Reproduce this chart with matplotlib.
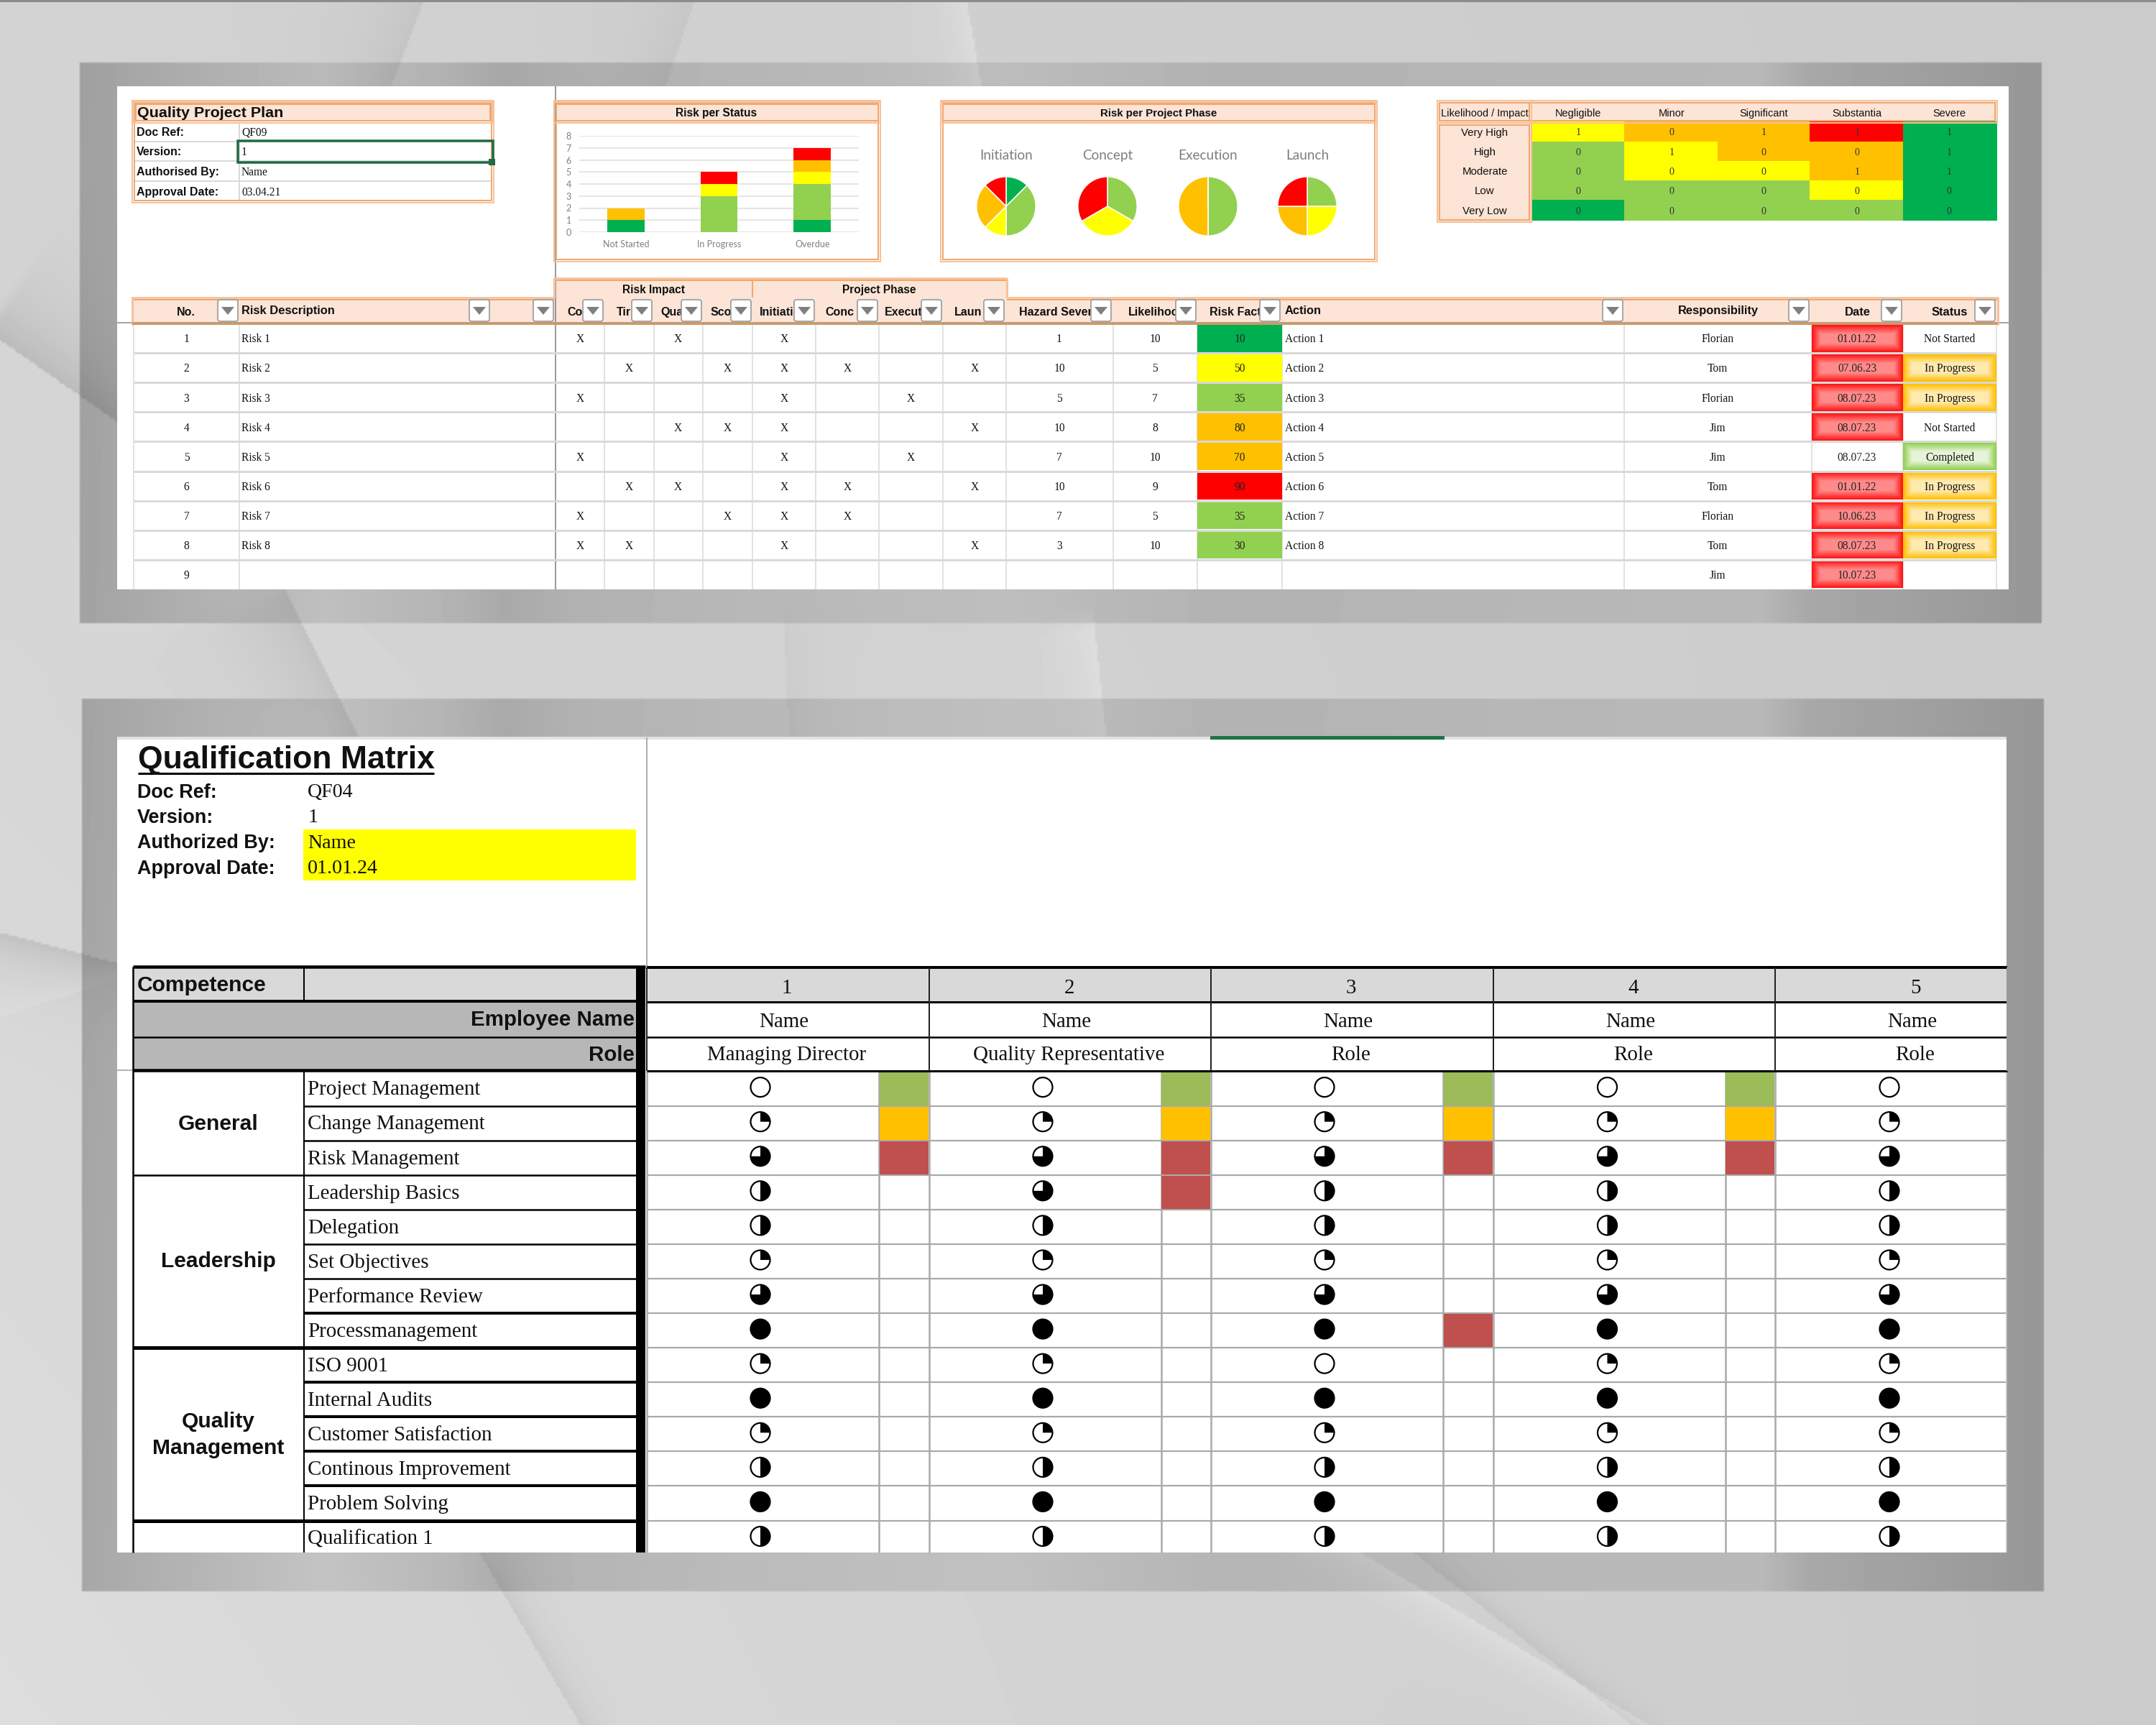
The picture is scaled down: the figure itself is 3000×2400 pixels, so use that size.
import numpy as np
import matplotlib
matplotlib.use("Agg")
import matplotlib.pyplot as plt
from matplotlib.patches import Rectangle, Circle, Wedge, Polygon, FancyBboxPatch

# ---------- DATA ----------
plan_title = "Quality Project Plan"
plan_labels = ["Doc Ref:", "Version:", "Authorised By:", "Approval Date:"]
plan_values = ["QF09", "1", "Name", "03.04.21"]

status_cats = ["Not Started", "In Progress", "Overdue"]
status_ticks = [0, 1, 2, 3, 4, 5, 6, 7, 8]
status_dgreen = [1, 0, 1]
status_lgreen = [0, 3, 3]
status_yellow = [0, 1, 1]
status_orange = [1, 0, 1]
status_red = [0, 1, 1]

phase_names = ["Initiation", "Concept", "Execution", "Launch"]
pie_initiation = [1, 3, 1, 2, 1]   # dgreen, lgreen, yellow, orange, red
pie_concept = [0, 1, 1, 0, 1]
pie_execution = [0, 1, 0, 1, 0]
pie_launch = [0, 1, 1, 1, 1]

impact_cols = ["Negligible", "Minor", "Significant", "Substantia", "Severe"]
likelihood_rows = ["Very High", "High", "Moderate", "Low", "Very Low"]
heat_values = [[1, 0, 1, 1, 1],
               [0, 1, 0, 0, 1],
               [0, 0, 0, 1, 1],
               [0, 0, 0, 0, 0],
               [0, 0, 0, 0, 0]]
heat_colors = [["y", "o", "o", "r", "dg"],
               ["lg", "y", "o", "o", "dg"],
               ["lg", "y", "y", "o", "dg"],
               ["lg", "lg", "lg", "y", "dg"],
               ["dg", "lg", "lg", "lg", "dg"]]

risk_no = [1, 2, 3, 4, 5, 6, 7, 8, 9]
risk_desc = ["Risk 1", "Risk 2", "Risk 3", "Risk 4", "Risk 5", "Risk 6", "Risk 7", "Risk 8", ""]
risk_marks = ["X.X.X...", ".X.XXX.X", "X...X.X.", "..XXX..X", "X...X.X.",
              ".XX.XX.X", "X..XXX..", "XX..X..X", "........"]
severity = [1, 10, 5, 10, 7, 10, 7, 3, ""]
likelihood = [10, 5, 7, 8, 10, 9, 5, 10, ""]
risk_factor = [10, 50, 35, 80, 70, 90, 35, 30, ""]
factor_colors = ["dg", "y", "lg", "o", "o", "r", "lg", "lg", None]
actions = ["Action 1", "Action 2", "Action 3", "Action 4", "Action 5", "Action 6", "Action 7", "Action 8", ""]
responsible = ["Florian", "Tom", "Florian", "Jim", "Jim", "Tom", "Florian", "Tom", "Jim"]
dates = ["01.01.22", "07.06.23", "08.07.23", "08.07.23", "08.07.23", "01.01.22", "10.06.23", "08.07.23", "10.07.23"]
date_overdue = [1, 1, 1, 1, 0, 1, 1, 1, 1]
status = ["Not Started", "In Progress", "In Progress", "Not Started", "Completed",
          "In Progress", "In Progress", "In Progress", ""]
header_labels = ["Co", "Tir", "Qua", "Sco", "Initiati", "Conc", "Execut", "Laun",
                 "Hazard Severi", "Likelihoo", "Risk Fact"]

qm_title = "Qualification Matrix"
qm_labels = ["Doc Ref:", "Version:", "Authorized By:", "Approval Date:"]
qm_values = ["QF04", "1", "Name", "01.01.24"]
employee_no = ["1", "2", "3", "4", "5"]
employee_names = ["Name", "Name", "Name", "Name", "Name"]
employee_roles = ["Managing Director", "Quality Representative", "Role", "Role", "Role"]
competences = ["Project Management", "Change Management", "Risk Management", "Leadership Basics",
               "Delegation", "Set Objectives", "Performance Review", "Processmanagement",
               "ISO 9001", "Internal Audits", "Customer Satisfaction", "Continous Improvement",
               "Problem Solving", "Qualification 1"]
levels = [[0, 0, 0, 0, 0], [1, 1, 1, 1, 1], [3, 3, 3, 3, 3], [2, 3, 2, 2, 2],
          [2, 2, 2, 2, 2], [1, 1, 1, 1, 1], [3, 3, 3, 3, 3], [4, 4, 4, 4, 4],
          [1, 1, 0, 1, 1], [4, 4, 4, 4, 4], [1, 1, 1, 1, 1], [2, 2, 2, 2, 2],
          [4, 4, 4, 4, 4], [2, 2, 2, 2, 2]]
gap_flags = [["g", "g", "g", "g"], ["a", "a", "a", "a"], ["r", "r", "r", "r"], ["", "r", "", ""],
             ["", "", "", ""], ["", "", "", ""], ["", "", "", ""], ["", "", "r", ""],
             ["", "", "", ""], ["", "", "", ""], ["", "", "", ""], ["", "", "", ""],
             ["", "", "", ""], ["", "", "", ""]]

# ---------- STYLE / LAYOUT ----------
W, H = 3000, 2400
DPI = 100
SERIF, SANS, CAL = "Liberation Serif", "Liberation Sans", "Lato"
COL = {"dg": "#00b050", "lg": "#92d050", "y": "#ffff00", "o": "#ffc000", "r": "#ff0000"}
PIE_COLORS = [COL["dg"], COL["lg"], COL["y"], COL["o"], COL["r"]]
GAP = {"g": "#9bbb59", "a": "#ffc000", "r": "#c0504d"}
PEACH, OR1, OR2 = "#fce4d6", "#f6c19a", "#f0a870"
GRID = "#d9d9d9"

fig = plt.figure(figsize=(W / DPI, H / DPI), dpi=DPI)
ax = fig.add_axes([0, 0, 1, 1])


def T(x, y, s, px, fam=SERIF, w="normal", ha="center", c="#111111", z=10, **kw):
    return ax.text(x, y + 1.8, str(s), fontsize=px * 72 / DPI, family=fam, weight=w, ha=ha,
                   va="center", color=c, zorder=z, **kw)


def R(x0, y0, x1, y1, fc, z=2, ec="none", lw=0):
    ax.add_patch(Rectangle((x0, y0), x1 - x0, y1 - y0, fc=fc, ec=ec, lw=lw * 72 / DPI, zorder=z))


def L(x0, y0, x1, y1, c="#000000", px=2, z=4):
    ax.plot([x0, x1], [y0, y1], color=c, lw=px * 72 / DPI, zorder=z, solid_capstyle="butt")


def inset(x0, y0, x1, y1):
    a = fig.add_axes([x0 / W, 1 - y1 / H, (x1 - x0) / W, (y1 - y0) / H])
    a.patch.set_alpha(0)
    return a


def band(X, Y, p0, p1, w, delta, side=1):
    dx, dy = p1[0] - p0[0], p1[1] - p0[1]
    n = np.hypot(dx, dy)
    d = side * ((X - p0[0]) * dy - (Y - p0[1]) * dx) / n
    t = ((X - p0[0]) * dx + (Y - p0[1]) * dy) / n ** 2
    fade = np.clip(t / 0.08, 0, 1) * np.clip((1 - t) / 0.08, 0, 1)
    return delta * np.where(d >= 0, np.exp(-d / w), 0) * fade


# background texture
xs = np.linspace(0, W, 1000)
ys = np.linspace(0, H, 800)
X, Y = np.meshgrid(xs, ys)
bg = 0.825 + 0.04 * (Y / H) * (1 - X / W) - 0.03 * X / W
for p0, p1, w_, dl, sd in [
    ((600, -30), (490, 260), 70, -0.05, -1),
    ((975, -30), (880, 260), 60, -0.04, -1),
    ((1340, -30), (1390, 260), 45, 0.05, -1),
    ((380, 790), (650, 1330), 80, -0.07, -1),
    ((1520, 840), (1570, 1320), 60, 0.05, -1),
    ((1090, 840), (1110, 1320), 40, -0.025, 1),
    ((630, 2100), (830, 2440), 25, -0.06, 1),
    ((1790, 2100), (2360, 2440), 35, 0.05, -1),
    ((1890, 2100), (2320, 2440), 20, -0.05, 1),
    ((-30, 452), (190, 606), 70, -0.10, 1),
    ((-30, 1290), (200, 1350), 40, -0.09, -1),
    ((-30, 1425), (200, 1350), 30, 0.02, 1),
]:
    bg = bg + band(X, Y, p0, p1, w_, dl, sd)
prof_x = [110, 250, 450, 620, 700, 800, 1000, 1400, 1700, 2000, 2450, 2520, 2843]
prof_y = [.76, .82, .90, .85, .80, .84, .87, .91, .86, .88, .90, .82, .74]
prof = np.interp(X, prof_x, prof_y)
for (x0, y0, x1, y1) in [(110, 85, 2843, 868), (113, 971, 2846, 2215)]:
    m = (X >= x0) & (X <= x1) & (Y >= y0) & (Y <= y1)
    bg[m] = bg[m] * prof[m]
ax.imshow(bg, extent=(0, W, H, 0), cmap="gray", vmin=0, vmax=1, aspect="auto",
          interpolation="bilinear", zorder=0)
R(0, 0, W, 3, "#8c8c8c", z=1)
R(163, 120, 2795, 820, "white", z=1)
R(163, 1025, 2792, 2160, "white", z=1)


def glow(x0, y0, x1, y1, edge, center):
    nx, ny = 80, 40
    gx = np.linspace(0, 1, nx)
    gy = np.linspace(0, 1, ny)
    PX, PY = np.meshgrid(gx, gy)
    dist = np.minimum(np.minimum(PX, 1 - PX) * (x1 - x0), np.minimum(PY, 1 - PY) * (y1 - y0))
    t = np.clip(dist / ((y1 - y0) * 0.32), 0, 1)[..., None]
    e = np.array(matplotlib.colors.to_rgb(edge))
    c = np.array(matplotlib.colors.to_rgb(center))
    ax.imshow(e * (1 - t) + c * t, extent=(x0, x1, y1, y0), aspect="auto", zorder=2,
              interpolation="bilinear")


def obox(x0, y0, x1, y1, fc=None):
    if fc:
        R(x0, y0, x1, y1, fc, z=2)
    R(x0, y0, x1, y1, "none", z=5, ec=OR1, lw=2)
    R(x0 + 3, y0 + 3, x1 - 3, y1 - 3, "none", z=5, ec=OR2, lw=2)


def button(xr):
    ax.add_patch(FancyBboxPatch((xr - 29, 417), 28, 30, boxstyle="round,pad=0,rounding_size=3",
                                fc="white", ec="#9a9a9a", lw=1.2, zorder=7))
    cx = xr - 15
    ax.add_patch(Polygon([(cx - 9, 427), (cx + 9, 427), (cx, 438)], fc="#7f7f7f", ec="none", zorder=8))


# ---------- TOP: info box ----------
obox(184, 140, 687, 282)
R(188, 144, 683, 168, PEACH)
obox(186, 142, 685, 171)
T(191, 156, plan_title, 21.5, SANS, "bold", ha="left")
plan_y = [183, 210, 238, 266]
for lb, v, y in zip(plan_labels, plan_values, plan_y):
    T(190, y, lb, 16, SANS, "bold", ha="left")
    T(336, y, v, 15.5, SERIF, ha="left")
for y in [197, 224, 252]:
    L(188, y, 684, y, GRID, 2)
L(333, 172, 333, 278, GRID, 2)
R(331, 196, 686, 226, "none", z=6, ec="#1f6b45", lw=3.5)
R(680, 221, 689, 230, "#1f6b45", z=7)
L(773, 120, 773, 820, "#8f8f8f", 1.8, z=3)

# ---------- TOP: bar chart ----------
obox(771, 140, 1225, 364)
obox(771, 142, 1225, 171, PEACH)
T(997, 156, "Risk per Status", 15.5, SANS, "bold")
bar_ax = inset(806, 189, 1195, 323)
bottom = np.zeros(3)
for vals, cc in zip([status_dgreen, status_lgreen, status_yellow, status_orange, status_red], PIE_COLORS):
    bar_ax.bar(status_cats, vals, width=0.4, bottom=bottom, color=cc, zorder=3)
    bottom = bottom + np.array(vals)
bar_ax.set_xlim(-0.5, 2.5)
bar_ax.set_ylim(0, 8)
bar_ax.set_yticks(status_ticks)
bar_ax.grid(axis="y", color="#e6e6e6", lw=1.6)
bar_ax.set_axisbelow(True)
for s_ in bar_ax.spines.values():
    s_.set_visible(False)
bar_ax.tick_params(length=0, labelsize=12.5 * 72 / DPI, labelcolor="#7f7f7f", pad=8)
bar_ax.tick_params(axis="y", pad=8)
for t_ in bar_ax.get_xticklabels() + bar_ax.get_yticklabels():
    t_.set_family(CAL)

# ---------- TOP: pies ----------
obox(1309, 140, 1916, 364)
obox(1309, 142, 1916, 171, PEACH)
T(1612, 156, "Risk per Project Phase", 15, SANS, "bold")
pie_centers = [1400, 1541, 1681, 1819]
for nm, vals, cx in zip(phase_names, [pie_initiation, pie_concept, pie_execution, pie_launch], pie_centers):
    T(cx, 215, nm, 19, CAL, c="#7f7f7f")
    pa = inset(cx - 42, 245, cx + 42, 329)
    pa.pie(vals, colors=PIE_COLORS, startangle=90, counterclock=False, radius=1,
           wedgeprops=dict(edgecolor="white", linewidth=1.1))
    pa.set_xlim(-1.02, 1.02)
    pa.set_ylim(-1.02, 1.02)

# ---------- TOP: heat matrix ----------
hx = [2131, 2260, 2390, 2518, 2648, 2779]
hy = [169, 197, 224, 251, 278, 307]
hc = [2196, 2326, 2454, 2584, 2712]
obox(2000, 140, 2779, 171, PEACH)
obox(2000, 140, 2131, 171)
R(2000, 171, 2131, 309, PEACH)
obox(2000, 171, 2131, 309)
T(2066, 156, "Likelihood / Impact", 14.5, SANS)
for nm, x in zip(impact_cols, hc):
    T(x, 156, nm, 14.5, SANS)
for i, rn in enumerate(likelihood_rows):
    T(2066, (hy[i] + hy[i + 1]) / 2, rn, 15, SANS)
    for j in range(5):
        R(hx[j], hy[i], hx[j + 1], hy[i + 1], COL[heat_colors[i][j]], z=3)
        T(hc[j], (hy[i] + hy[i + 1]) / 2, heat_values[i][j], 14, SERIF, c="#333333")

# ---------- TOP: risk table ----------
cols = [186, 333, 773, 841, 909.5, 978, 1047, 1135, 1223, 1312, 1400, 1549, 1666, 1784, 2260, 2521, 2648, 2778]
row0, rowh = 450, (820 - 450) / 9
row_tops = [row0 + rowh * i for i in range(10)]
R(184, 413, 2780, 452, PEACH, z=2)
R(771, 386, 1401, 413, PEACH, z=2)
for seg in [((184, 414), (771, 414)), ((1401, 414), (2780, 414))]:
    L(seg[0][0], seg[0][1], seg[1][0], seg[1][1], OR1, 2.5, z=5)
    L(seg[0][0], seg[0][1] + 3, seg[1][0], seg[1][1] + 3, OR2, 2, z=5)
L(771, 387, 1401, 387, OR1, 2.5, z=5)
L(771, 390, 1401, 390, OR2, 2, z=5)
L(771, 387, 771, 414, OR1, 3, z=5)
L(1401, 387, 1401, 414, OR1, 3, z=5)
L(1047, 391, 1047, 414, OR2, 2, z=5)
L(184, 413, 184, 452, OR1, 3, z=5)
L(2780, 413, 2780, 452, OR1, 3, z=5)
L(184, 450, 2780, 450, "#c99a70", 4, z=5)
L(163, 449, 186, 449, "#888888", 1.5)
L(2778, 449, 2795, 449, "#888888", 1.5)
T(909.5, 402, "Risk Impact", 15.5, SANS, "bold")
T(1223, 402, "Project Phase", 15.5, SANS, "bold")
T(259, 433, "No.", 16, SANS, "bold")
T(336, 431, "Risk Description", 16.5, SANS, "bold", ha="left")
T(1788, 431, "Action", 16.5, SANS, "bold", ha="left")
T(2391, 431, "Responsibility", 16.5, SANS, "bold")
T(2585, 433, "Date", 16.5, SANS, "bold")
T(2713, 433, "Status", 16.5, SANS, "bold")
header_x = [789, 858, 919, 989, 1057, 1148, 1231, 1328, 1418, 1570, 1683]
for s_, x in zip(header_labels, header_x):
    T(x, 433, s_, 16, SANS, "bold", ha="left", z=6)
for xr in [332, 682, 771, 840, 908, 977, 1046, 1134, 1222, 1311, 1398, 1547, 1665, 1782, 2259, 2518, 2647, 2777]:
    button(xr)

for x in cols:
    if x != 773:
        L(x, 452, x, 820, GRID, 1.5, z=2)
for y in row_tops[1:-1]:
    L(186, y, 2778, y, GRID, 3, z=4)
mark_centers = [(cols[k] + cols[k + 1]) / 2 for k in range(2, 10)]
for i in range(9):
    y0_, y1_ = row_tops[i] + 2, row_tops[i + 1] - 1.5
    yc = (row_tops[i] + row_tops[i + 1]) / 2
    T(259.5, yc, risk_no[i], 15.5)
    T(336, yc, risk_desc[i], 15.5, ha="left")
    for ch, x in zip(risk_marks[i], mark_centers):
        if ch == "X":
            T(x, yc, "X", 15.5)
    T(1474, yc, severity[i], 15.5)
    T(1607, yc, likelihood[i], 15.5)
    if factor_colors[i]:
        R(1666, y0_, 1784, y1_, COL[factor_colors[i]], z=3)
    T(1725, yc, risk_factor[i], 15.5, c="#222222")
    T(1788, yc, actions[i], 15.5, ha="left")
    T(2390, yc, responsible[i], 15.5)
    if date_overdue[i]:
        glow(2521, y0_, 2648, y1_, "#ff1414", "#ff8a8a")
    T(2584, yc, dates[i], 15.5, c="#222222")
    if status[i] == "In Progress":
        glow(2648, y0_, 2778, y1_, "#ffc000", "#ffeab0")
    elif status[i] == "Completed":
        glow(2648, y0_, 2778, y1_, "#92d050", "#e6f3d8")
    T(2713, yc, status[i], 15.5)

# ---------- BOTTOM: header block ----------
R(163, 1025, 2792, 1029, "#e2e2e2", z=2)
R(1684, 1024, 2010, 1029, "#217346", z=3)
L(900, 1026, 900, 1345, "#a6a6a6", 1.8)
T(192, 1056, qm_title, 44.5, SANS, "bold", ha="left")
L(192, 1076, 604, 1076, "#000000", 3)
qm_y = [1101, 1136, 1171.5, 1207]
R(422, 1154, 885, 1225, "#ffff00")
for lb, v, y in zip(qm_labels, qm_values, qm_y):
    T(191, y, lb, 27, SANS, "bold", ha="left")
    T(428, y, v, 28, SERIF, ha="left")

# ---------- BOTTOM: matrix ----------
R(185, 1346, 885, 1393, "#d9d9d9")
R(185, 1393, 885, 1490, "#b7b7b7")
emp_x = [900, 1292.5, 1685, 2077.5, 2470, 2793]
emp_center = [1095, 1487.5, 1880, 2273, 2665]
name_center = [1091, 1484, 1876, 2269, 2661]
ball_x = [1058, 1451, 1843, 2236.5, 2629]
R(900, 1346, 2793, 1394, "#d9d9d9")
for yy, px in [(1346, 4), (1394, 3), (1443, 2.5), (1490, 3)]:
    L(900, yy, 2793, yy, "#000000", px, z=6)
for x in emp_x[:-1]:
    L(x, 1346, x, 1490, "#222222", 2, z=6)
L(2793, 1346, 2793, 1490, "#999999", 2, z=6)
T(191, 1369, "Competence", 30, SANS, "bold", ha="left")
T(883, 1417, "Employee Name", 29.5, SANS, "bold", ha="right")
T(883, 1466, "Role", 29.5, SANS, "bold", ha="right")
for i in range(5):
    T(emp_center[i], 1373, employee_no[i], 29)
    T(name_center[i], 1420, employee_names[i], 29)
    T(emp_center[i], 1466, employee_roles[i], 29)

qtop, qh = 1490.6, 48.07
q_tops = [qtop + qh * i for i in range(15)]
# light grid
for i in range(1, 14):
    L(900, q_tops[i], 2791, q_tops[i], "#a9a9a9", 2.2, z=3)
for x in emp_x[:-1]:
    L(x, 1490, x, 2160, "#a9a9a9", 2.5, z=3)
    if x < 2400:
        L(x + 323, 1490, x + 323, 2160, "#a9a9a9", 2.5, z=3)
L(2471 + 321, 1490, 2471 + 321, 2160, "#c4c4c4", 1.5, z=3)
for i in range(14):
    for j in range(4):
        f = gap_flags[i][j]
        if f:
            x1_ = emp_x[j + 1]
            R(x1_ - 69, q_tops[i] + 1, x1_ - 1, q_tops[i + 1] - 1, GAP[f], z=4)
    T(428, q_tops[i] + 24, competences[i], 29, ha="left")
    for j in range(5):
        c_ = (ball_x[j], q_tops[i] + 22)
        lv = levels[i][j]
        ax.add_patch(Circle(c_, 13.5, fc="#000000" if lv == 4 else "white", ec="#000000", lw=1.6, zorder=6))
        if 0 < lv < 4:
            ax.add_patch(Wedge(c_, 13.5, -90, -90 + 90 * lv, fc="#000000", ec="none", zorder=7))

# black frame of the left block
R(885, 1345, 898, 2160, "#000000", z=6)
L(185, 1345, 898, 1345, "#000000", 4.5, z=6)
L(185, 1345, 185, 2160, "#000000", 2.5, z=6)
L(423, 1346, 423, 1392, "#000000", 2, z=6)
L(185, 1393, 885, 1393, "#000000", 4, z=6)
L(185, 1443, 885, 1443, "#000000", 2.5, z=6)
L(185, 1489, 885, 1489, "#000000", 4.5, z=6)
L(423, 1490, 423, 2160, "#000000", 2, z=6)
thick_rows = {7, 9, 10, 11, 12}
for i in range(1, 14):
    xs_ = 185 if i in (3, 8, 13) else 423
    px_ = 5 if i in (8, 13) else (4 if i in thick_rows else 2.5)
    L(xs_, q_tops[i], 885, q_tops[i], "#000000", px_, z=6)
T(304, 1562, "General", 30, SANS, "bold")
T(304, 1753.6, "Leadership", 30, SANS, "bold")
T(304, 1976, "Quality", 30, SANS, "bold")
T(304, 2013, "Management", 30, SANS, "bold")
L(163, 1489, 185, 1489, "#9a9a9a", 1.5)

ax.set_xlim(0, W)
ax.set_ylim(H, 0)
ax.axis("off")
fig.savefig("out.png", dpi=DPI)
